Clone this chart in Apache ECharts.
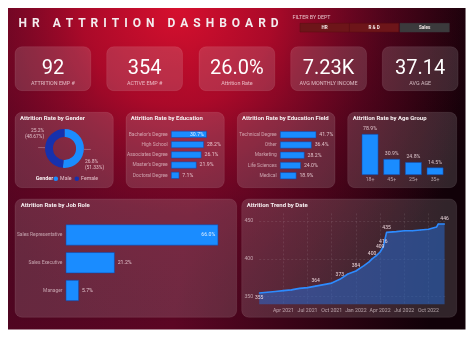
<!DOCTYPE html>
<html>
<head>
<meta charset="utf-8">
<title>HR Attrition Dashboard</title>
<script src="https://cdn.jsdelivr.net/npm/echarts@6/dist/echarts.min.js"></script>
<style>
  html, body { margin: 0; padding: 0; background: #ffffff; }
  #board { width: 474px; height: 338px; }
</style>
</head>
<body>
<div id="board"></div>
<script>
// ---------- data ----------
const kpiValues = ['92', '354', '26.0%', '7.23K', '37.14'];
const kpiLabels = ['ATTRITION EMP #', 'ACTIVE EMP #', 'Attrition Rate', 'AVG MONTHLY INCOME', 'AVG AGE'];
const deptFilters = ['HR', 'R & D', 'Sales'];

const genderNames = ['Male', 'Female'];
const genderRates = [26.8, 25.2];
const genderShares = [51.33, 48.67];

const eduCategories = ["Bachelor's Degree", 'High School', 'Associates Degree', "Master's Degree", 'Doctoral Degree'];
const eduRates = [30.7, 28.2, 26.1, 21.9, 7.1];

const fieldCategories = ['Technical Degree', 'Other', 'Marketing', 'Life Sciences', 'Medical'];
const fieldRates = [41.7, 36.4, 28.2, 24.0, 18.9];

const ageGroups = ['18+', '45+', '25+', '35+'];
const ageRates = [78.9, 30.9, 24.8, 14.5];

const roleCategories = ['Sales Representative', 'Sales Executive', 'Manager'];
const roleRates = [66.0, 21.2, 5.7];

const trendDates = [
  '2021-01-01', '2021-02-01', '2021-03-01', '2021-04-01', '2021-05-01', '2021-06-01',
  '2021-07-01', '2021-08-01', '2021-09-01', '2021-10-01', '2021-11-01', '2021-12-01',
  '2022-01-01', '2022-02-01', '2022-02-20', '2022-03-01', '2022-03-16', '2022-04-01',
  '2022-04-13', '2022-04-25', '2022-06-01', '2022-07-01', '2022-08-01', '2022-09-01',
  '2022-10-01', '2022-11-01', '2022-11-07', '2022-12-01'
];
const trendCounts = [
  355, 356, 357, 358, 359, 361,
  362, 364, 366, 368, 373, 380,
  384, 391, 396, 400, 404, 409,
  416, 435, 436, 437, 437, 438,
  439, 442, 446, 446
];
const trendLabelDates = ['2021-01-01', '2021-08-01', '2021-11-01', '2022-01-01', '2022-03-01',
  '2022-04-01', '2022-04-13', '2022-04-25', '2022-12-01'];
const trendTicks = [350, 400, 450];
const monthNames = ['Jan', 'Feb', 'Mar', 'Apr', 'May', 'Jun', 'Jul', 'Aug', 'Sep', 'Oct', 'Nov', 'Dec'];
const trendStartYear = 2021;

// ---------- styling helpers ----------
const FONT = 'Roboto, "Noto Sans", sans-serif';
const BLUE = '#1a8cff';
const BAR_BORDER = 'rgba(16,70,170,0.9)';
const AXIS_TEXT = 'rgba(255,235,240,0.62)';
const VALUE_TEXT = 'rgba(255,235,240,0.78)';

// months elapsed since January of the first year (fractional within a month)
function monthIndex(d) {
  const p = d.split('-').map(Number);
  return (p[0] - trendStartYear) * 12 + (p[1] - 1) + (p[2] - 1) / 30;
}

function card(x, y, w, h) {
  return {
    type: 'rect', z: 1,
    shape: { x: x, y: y, width: w, height: h, r: 7 },
    style: {
      fill: 'rgba(255,255,255,0.14)', stroke: 'rgba(255,255,255,0.10)', lineWidth: 0.8,
      shadowBlur: 4, shadowColor: 'rgba(0,0,0,0.25)', shadowOffsetY: 1
    }
  };
}

function text(str, x, y, opt) {
  return {
    type: 'text', z: 3, x: x, y: y,
    style: Object.assign({
      text: str, fill: '#ffffff', fontFamily: FONT, fontSize: 6,
      align: 'left', verticalAlign: 'middle'
    }, opt || {})
  };
}

// title drawn glyph by glyph so it can be tracked out
function trackedText(str, x, y, size, spacing) {
  const ctx = document.createElement('canvas').getContext('2d');
  ctx.font = 'bold ' + size + 'px ' + FONT;
  const out = [];
  let cx = x;
  for (const ch of str) {
    if (ch !== ' ') out.push(text(ch, cx, y, { fontSize: size, fontWeight: 'bold', fill: '#f3ecee' }));
    cx += ctx.measureText(ch).width + spacing;
  }
  return out;
}

// ---------- static frame ----------
const graphics = [];
graphics.push({
  type: 'rect', z: 0,
  shape: { x: 8, y: 8, width: 457.5, height: 321.5 },
  style: {
    fill: new echarts.graphic.LinearGradient(0, 0, 1, 0.2, [
      { offset: 0, color: '#4c0520' },
      { offset: 0.45, color: '#5c0624' },
      { offset: 0.8, color: '#2c0312' },
      { offset: 1, color: '#110108' }
    ])
  }
});
graphics.push({
  type: 'rect', z: 0,
  shape: { x: 8, y: 8, width: 457.5, height: 321.5 },
  style: {
    fill: new echarts.graphic.RadialGradient(0.37, 0.0, 1.0, [
      { offset: 0, color: 'rgba(214,16,46,1)' },
      { offset: 0.3, color: 'rgba(180,10,42,0.9)' },
      { offset: 0.65, color: 'rgba(120,6,38,0.45)' },
      { offset: 1, color: 'rgba(90,4,30,0)' }
    ])
  }
});

graphics.push(...trackedText('HR ATTRITION DASHBOARD', 18.5, 23.5, 12, 5));

// department slicer
graphics.push(text('FILTER BY DEPT', 292.5, 17.3, { fontSize: 5.3, fill: 'rgba(255,240,242,0.8)' }));
const slicerX = [300, 349.5, 400];
deptFilters.forEach((d, i) => {
  const active = i === deptFilters.length - 1;
  graphics.push({
    type: 'rect', z: 1,
    shape: { x: slicerX[i], y: 23.3, width: 49.3, height: 8.7 },
    style: { fill: active ? '#3b3a3c' : '#6d1519', stroke: active ? '#3b3a3c' : '#5a0e12', lineWidth: 0.5 }
  });
  graphics.push(text(d, slicerX[i] + 24.6, 27.8, { fontSize: 4.6, fontWeight: 'bold', align: 'center', fill: '#f2e6e6' }));
});

// KPI tiles
const kpiX = [15, 106.7, 199, 290.7, 382.3];
kpiValues.forEach((v, i) => {
  graphics.push(card(kpiX[i], 46.7, 75.8, 44));
  graphics.push(text(v, kpiX[i] + 37.9, 68.5, { fontSize: 20, align: 'center', fill: '#ffffff' }));
  graphics.push(text(kpiLabels[i], kpiX[i] + 37.9, 83.5, { fontSize: 5.4, align: 'center', fill: 'rgba(255,235,240,0.72)' }));
});

// chart panels
[[15, 112.3, 98.3, 75.4], [126, 112.3, 98.3, 75.4], [237.3, 112.3, 97.7, 75.4], [347.7, 112.3, 109, 75.4],
 [15, 199, 221.7, 118.3], [241.7, 199, 215, 118.3]].forEach(r => graphics.push(card(r[0], r[1], r[2], r[3])));

const panelTitles = [
  ['Attrition Rate by Gender', 20, 118.7],
  ['Attrition Rate by Education', 130.7, 118.7],
  ['Attrition Rate by Education Field', 242, 118.7],
  ['Attrition Rate by Age Group', 352.7, 118.7],
  ['Attrition Rate by Job Role', 20.7, 205.7],
  ['Attrition Trend by Date', 246.7, 205.7]
];
panelTitles.forEach(t => graphics.push(text(t[0], t[1], t[2], { fontSize: 6, fontWeight: 'bold', fill: '#f6eef0' })));

graphics.push(text('Gender', 35.7, 178.7, { fontSize: 5.4, fontWeight: 'bold', fill: '#f6eef0' }));

// ---------- chart builders ----------
function hBarSeries(values, gridIndex, insideIndex, barWidth) {
  return {
    type: 'bar', xAxisIndex: gridIndex, yAxisIndex: gridIndex, barWidth: barWidth,
    itemStyle: { color: BLUE, borderColor: BAR_BORDER, borderWidth: 0.6 },
    label: {
      show: true, position: 'right', distance: 3, fontFamily: FONT, fontSize: 5.2, color: VALUE_TEXT,
      formatter: p => p.value.toFixed(1) + '%'
    },
    data: values.map((v, i) => i === insideIndex
      ? { value: v, label: { position: 'insideRight', distance: 3, color: 'rgba(255,255,255,0.85)' } }
      : v)
  };
}

function hCategoryAxis(cats, gridIndex, fontSize) {
  return {
    type: 'category', gridIndex: gridIndex, data: cats, inverse: true,
    axisLine: { show: false }, axisTick: { show: false }, splitLine: { show: false },
    axisLabel: { fontFamily: FONT, fontSize: fontSize, color: AXIS_TEXT, margin: 3.3 }
  };
}

function hiddenValueAxis(gridIndex, max) {
  return { type: 'value', gridIndex: gridIndex, min: 0, max: max, show: false, splitLine: { show: false } };
}

const option = {
  animation: false,
  backgroundColor: '#ffffff',
  textStyle: { fontFamily: FONT },
  graphic: { elements: graphics },
  legend: {
    data: genderNames, left: 53.5, top: 176.3, orient: 'horizontal',
    icon: 'circle', itemWidth: 4.6, itemHeight: 4.6, itemGap: 3, padding: 0,
    textStyle: { fontFamily: FONT, fontSize: 5.2, color: 'rgba(255,235,240,0.78)', padding: [0, 0, 0, -3] }
  },
  grid: [
    { left: 171, top: 129.2, width: 46.7, height: 51.25 },     // education
    { left: 280, top: 129.6, width: 43.5, height: 51.25 },     // education field
    { left: 359.2, top: 128.2, width: 86.7, height: 46.8 },    // age group
    { left: 65.7, top: 221.1, width: 161.8, height: 83.25 },   // job role
    { left: 259.2, top: 213.4, width: 187.8, height: 90.9 }    // trend
  ],
  xAxis: [
    hiddenValueAxis(0, 40),
    hiddenValueAxis(1, 50),
    {
      type: 'category', gridIndex: 2, data: ageGroups,
      axisLine: { show: false }, axisTick: { show: false },
      axisLabel: { fontFamily: FONT, fontSize: 5.2, color: AXIS_TEXT, margin: 2.5 }
    },
    hiddenValueAxis(3, 70),
    {
      type: 'value', gridIndex: 4, min: 0, max: 23.3, interval: 3,
      axisLine: { show: false }, axisTick: { show: false },
      splitLine: { show: true, showMinLine: false, showMaxLine: false,
        lineStyle: { type: [2, 2], color: 'rgba(255,255,255,0.16)', width: 0.6 } },
      axisLabel: {
        fontFamily: FONT, fontSize: 5.2, color: AXIS_TEXT, margin: 3.5,
        formatter: v => (v <= 0 ? '' : monthNames[v % 12] + ' ' + (trendStartYear + Math.floor(v / 12)))
      }
    }
  ],
  yAxis: [
    hCategoryAxis(eduCategories, 0, 4.9),
    hCategoryAxis(fieldCategories, 1, 4.9),
    { type: 'value', gridIndex: 2, min: 0, max: 90, show: false, splitLine: { show: false } },
    hCategoryAxis(roleCategories, 3, 4.9),
    {
      type: 'value', gridIndex: 4, min: 340, max: 460, interval: 10,
      axisLine: { show: false }, axisTick: { show: false }, splitLine: { show: false },
      axisLabel: {
        fontFamily: FONT, fontSize: 5.2, color: AXIS_TEXT, margin: 6,
        formatter: v => (trendTicks.indexOf(v) >= 0 ? String(v) : '')
      }
    }
  ],
  series: [
    {
      type: 'pie', name: 'Gender', center: [64.5, 148.5], radius: [11.6, 19.4],
      startAngle: 90, clockwise: true, avoidLabelOverlap: false,
      color: ['#1a8cff', '#1631ad'],
      itemStyle: { borderWidth: 0 },
      label: {
        show: true, position: 'outside', fontFamily: FONT, fontSize: 4.9, lineHeight: 5.8,
        color: 'rgba(255,235,240,0.75)',
        formatter: p => genderRates[p.dataIndex].toFixed(1) + '%\n(' + p.value.toFixed(2) + '%)'
      },
      labelLine: { show: true, length: 3, length2: 4, lineStyle: { width: 0.5, color: 'rgba(255,235,240,0.6)' } },
      labelLayout: p => (p.dataIndex === 0 ? { dy: 15, dx: -11 } : { dy: -14, dx: 11 }),
      data: genderNames.map((n, i) => ({ name: n, value: genderShares[i] }))
    },
    hBarSeries(eduRates, 0, 0, 7),
    hBarSeries(fieldRates, 1, -1, 7),
    {
      type: 'bar', xAxisIndex: 2, yAxisIndex: 2, barWidth: 16.7,
      itemStyle: { color: BLUE, borderColor: BAR_BORDER, borderWidth: 0.6 },
      label: {
        show: true, position: 'top', distance: 2.5, fontFamily: FONT, fontSize: 5.2, color: VALUE_TEXT,
        formatter: p => p.value.toFixed(1) + '%'
      },
      data: ageRates
    },
    hBarSeries(roleRates, 3, 0, 21),
    {
      type: 'line', xAxisIndex: 4, yAxisIndex: 4,
      showSymbol: true, showAllSymbol: true, symbol: 'circle', symbolSize: 1, smooth: false,
      itemStyle: { color: '#2d8bff' },
      lineStyle: { color: '#2d8bff', width: 1.6 },
      areaStyle: { color: 'rgba(40,104,205,0.78)', origin: 'start' },
      label: {
        show: false, fontFamily: FONT, fontSize: 5, color: 'rgba(255,235,240,0.88)', distance: 2,
        formatter: p => String(p.value[1])
      },
      labelLayout: { hideOverlap: false },
      markLine: {
        silent: true, symbol: ['none', 'none'], z: 1, label: { show: false },
        lineStyle: { type: [2, 2], color: 'rgba(255,255,255,0.16)', width: 0.6 },
        data: trendTicks.map(v => ({ yAxis: v }))
      },
      data: trendDates.map((d, i) => ({
        value: [monthIndex(d), trendCounts[i]],
        label: { show: trendLabelDates.indexOf(d) >= 0, position: i === 0 ? 'bottom' : 'top' }
      }))
    }
  ]
};

const chart = echarts.init(document.getElementById('board'), null, { renderer: 'canvas' });
chart.setOption(option);
</script>
</body>
</html>
